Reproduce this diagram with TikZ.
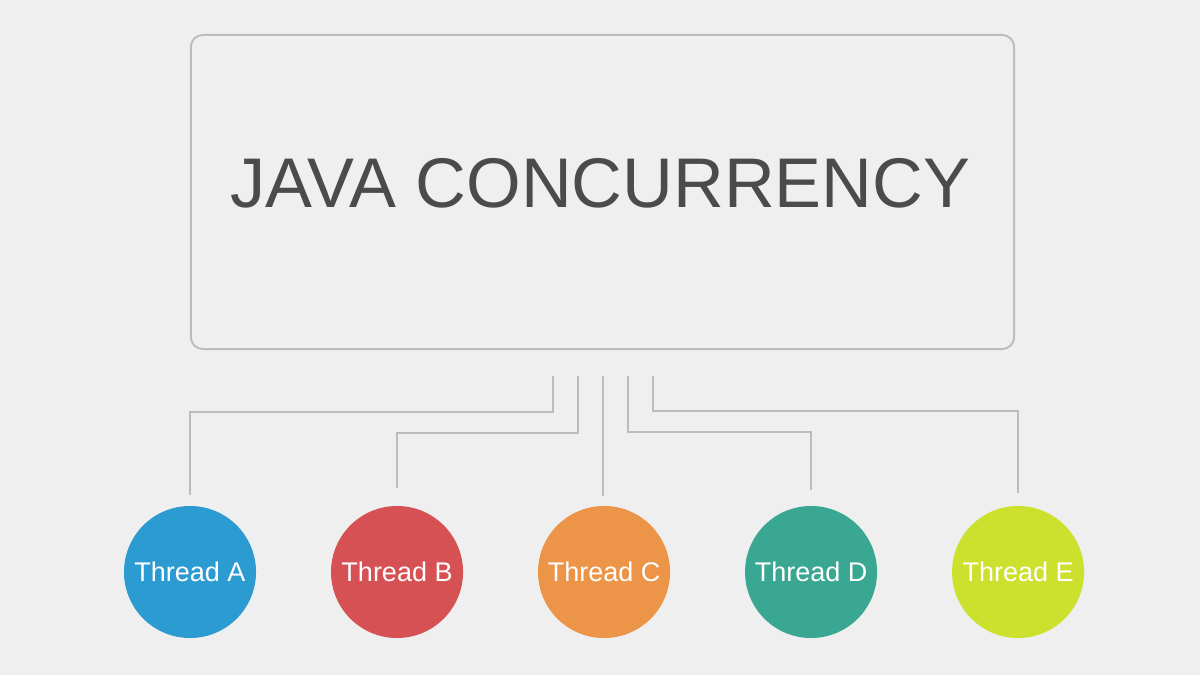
\documentclass[tikz,border=0pt]{standalone}
\usepackage{fontspec}
\setmainfont{Liberation Sans}
\usetikzlibrary{positioning}

\definecolor{bggray}{HTML}{EFEFEF}
\definecolor{linegray}{HTML}{BCBCBC}
\definecolor{titlegray}{HTML}{4B4B4B}
\definecolor{tblue}{HTML}{2C9BD1}
\definecolor{tred}{HTML}{D65154}
\definecolor{torange}{HTML}{EC9448}
\definecolor{tgreen}{HTML}{3AA793}
\definecolor{tlime}{HTML}{CCE02E}

\begin{document}
\begin{tikzpicture}[x=0.025cm, y=-0.025cm,
    frame/.style={rectangle, draw=linegray, line width=1.4pt, rounded corners=3mm,
        minimum width=20.575cm, minimum height=7.85cm},
    title/.style={text=titlegray, font=\fontsize{50}{60}\selectfont, inner sep=0pt},
    thread/.style={circle, draw=none, minimum size=3.3cm, inner sep=0pt,
        text=white, font=\fontsize{19.2}{23}\selectfont},
    wire/.style={draw=linegray, line width=1.4pt}
]

\fill[bggray] (0,0) rectangle (1200,675);

\node [frame] (java) at (602.5,192) {};
\node [title] (jtitle) at (600.5,183) {JAVA CONCURRENCY};

\node [thread, fill=tblue] (ta) at (190,572) {Thread A};
\node [thread, fill=tred, right=1.86cm of ta] (tb) {Thread B};
\node [thread, fill=torange, right=1.86cm of tb] (tc) {Thread C};
\node [thread, fill=tgreen, right=1.86cm of tc] (td) {Thread D};
\node [thread, fill=tlime, right=1.86cm of td] (te) {Thread E};

% free ends below the box
\coordinate (sa) at (553,376);
\coordinate (sb) at (578,376);
\coordinate (sc) at (603,376);
\coordinate (sd) at (628,376);
\coordinate (se) at (653,376);

\draw [wire, shorten >=0.28cm] (sa) -- ++(0,36) -| (ta.north);
\draw [wire, shorten >=0.45cm] (sb) -- ++(0,57) -| (tb.north);
\draw [wire, shorten >=0.25cm] (sc) -- (sc |- tc.north);
\draw [wire, shorten >=0.4cm] (sd) -- ++(0,56) -| (td.north);
\draw [wire, shorten >=0.33cm] (se) -- ++(0,35) -| (te.north);

\end{tikzpicture}
\end{document}
